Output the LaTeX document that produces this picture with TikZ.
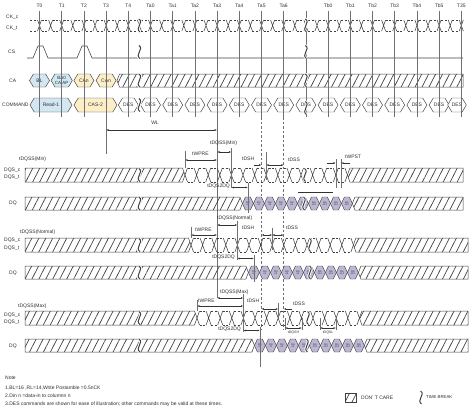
\documentclass[tikz,border=0pt]{standalone}
\usepackage{fontspec}
\setmainfont{Liberation Sans}
\usetikzlibrary{shapes.symbols,patterns.meta,arrows.meta}

\definecolor{wave}{HTML}{404040}
\definecolor{edgegray}{HTML}{707070}
\definecolor{txt}{HTML}{2E2E2E}
\definecolor{cmdblue}{HTML}{D2E7F2}
\definecolor{cmdyellow}{HTML}{FCEFC7}
\definecolor{beatfill}{HTML}{BEB7D4}

\newcommand{\dqshalf}{11.6}% DQS half period

\tikzset{
  lbl/.style={font=\fontsize{5}{6}\selectfont, text=txt, inner sep=0pt},
  bus/.style={shape=signal, signal to=east and west, signal pointer angle=118,
    draw=wave, line width=0.45pt, minimum height=13pt, minimum width=20pt,
    inner sep=0pt, font=\fontsize{5}{6}\selectfont, text=txt},
  busblue/.style={bus, fill=cmdblue},
  busyel/.style={bus, fill=cmdyellow},
  desbox/.style={bus, fill=white, minimum height=14pt},
  beat/.style={bus, fill=beatfill, minimum width=11pt, signal pointer angle=130,
    font=\fontsize{2.5}{2.7}\selectfont, align=center},
  hatch/.style={draw=wave, line width=0.5pt,
    pattern={Lines[angle=63,distance=6.2pt,line width=0.7pt]}, pattern color=wave},
  sig/.style={draw=wave, line width=0.55pt},
  sigdash/.style={sig, dash pattern=on 2pt off 1.6pt},
  edgeln/.style={draw=edgegray, line width=0.45pt},
  edgedash/.style={edgeln, dash pattern=on 2.5pt off 2pt},
  dimln/.style={draw=black!80, line width=0.45pt},
  dim/.style={dimln, {Latex[length=2.4pt,width=1.8pt]}-{Latex[length=2.4pt,width=1.8pt]}},
  arr/.style={dimln, -{Latex[length=2.4pt,width=1.8pt]}},
  tbrk/.pic={
    \draw[white, line width=2.8pt] (-0.5,-6.5) .. controls (5,-3) and (-5,2.5) .. (0.5,6.5);
    \draw[wave, line width=1pt] (-0.5,-6.5) .. controls (5,-3) and (-5,2.5) .. (0.5,6.5);
  }
}

% DQS strobe: #1 first edge, #2 top, #3 bottom, #4 right end
\newcommand{\dqswave}[4]{%
  \pgfmathsetmacro\ymid{(#2+#3)/2}
  \pgfmathsetmacro\xend{#1+14*\dqshalf}
  \path[hatch] (25,#2) -- (#1-2.5,#2) -- (#1,\ymid) -- (#1-2.5,#3) -- (25,#3) -- cycle;
  \path[hatch] (\xend,\ymid) -- (\xend+2.5,#2) -- (#4,#2) -- (#4,#3) -- (\xend+2.5,#3) -- cycle;
  \draw[sig] (#1,\ymid) -- (#1+2.5,#2) (#1,\ymid) -- (#1+2.5,#3)
             (\xend,\ymid) -- (\xend-2.5,#2) (\xend,\ymid) -- (\xend-2.5,#3);
  \foreach \i in {1,...,13}
    \draw[sig] ({#1+\dqshalf*\i-2.5},#2) -- ({#1+\dqshalf*\i+2.5},#3)
               ({#1+\dqshalf*\i-2.5},#3) -- ({#1+\dqshalf*\i+2.5},#2);
  \foreach \i in {0,...,13}
    \draw[sigdash] ({#1+\dqshalf*\i+2.5},#2) -- ({#1+\dqshalf*(\i+1)-2.5},#2)
                   ({#1+\dqshalf*\i+2.5},#3) -- ({#1+\dqshalf*(\i+1)-2.5},#3);
}

% DQ burst: #1 first beat start, #2 top, #3 bottom, #4 right end, #5 name prefix
\newcommand{\dqwave}[5]{%
  \pgfmathsetmacro\ymid{(#2+#3)/2}
  \pgfmathsetmacro\xend{#1+110}
  \path[hatch] (25,#2) -- (#1-2.5,#2) -- (#1,\ymid) -- (#1-2.5,#3) -- (25,#3) -- cycle;
  \path[hatch] (\xend,\ymid) -- (\xend+2.5,#2) -- (#4,#2) -- (#4,#3) -- (\xend+2.5,#3) -- cycle;
  \foreach \bn [count=\i from 0] in {0,1,2,3,4,11,12,13,14,15}
    \node[beat] (#5\bn) at ({#1+5.5+11*\i},\ymid) {Din\\n\bn};
}

\begin{document}
\begin{tikzpicture}[x=1pt,y=-1pt]
  \useasboundingbox (0,0) rectangle (474,410);

  % clock labels
  \foreach \lab [count=\k from 0] in {T0,T1,T2,T3,T4,Ta0,Ta1,Ta2,Ta3,Ta4,Ta5,Ta6}
    \node[lbl] (t\k) at ({39.5+22.2*\k},6) {\lab};
  \foreach \lab [count=\k from 13] in {Tb0,Tb1,Tb2,Tb3,Tb4,Tb5,T35}
    \node[lbl] (t\k) at ({39.5+22.2*\k},6) {\lab};

  % signal names
  \node[lbl, anchor=west] (ckc) at (6,17) {CK\_c};
  \node[lbl, anchor=west] (ckt) at (6,28) {CK\_t};
  \node[lbl, anchor=west] (cs) at (8,52) {CS};
  \node[lbl, anchor=west] (ca) at (9,81) {CA};
  \node[lbl, anchor=west] (cmd) at (2,105) {COMMAND};

  % clock
  \foreach \i in {1,...,39}
    \draw[sig] ({28.4+11.1*\i-2},20) -- ({28.4+11.1*\i+2},31)
               ({28.4+11.1*\i-2},31) -- ({28.4+11.1*\i+2},20);
  \foreach \i in {0,...,38}
    \draw[sigdash] ({28.4+11.1*\i+2},20) -- ({28.4+11.1*(\i+1)-2},20)
                   ({28.4+11.1*\i+2},31) -- ({28.4+11.1*(\i+1)-2},31);

  % CS
  \draw[sig] (27,58) -- (33,58) -- (38,46) -- (43,46) -- (48,58) -- (77,58)
    -- (82,46) -- (87,46) -- (92,58) -- (463,58);

  % CA
  \node[busblue] (bl) at (39.5,80.5) {BL};
  \node[busblue, align=center, font=\fontsize{4.5}{4.6}\selectfont] (ba) at (61.7,80.5) {BA0\\CA,AP};
  \node[busyel] (can1) at (83.9,80.5) {CAn};
  \node[busyel] (can2) at (106.1,80.5) {CAn};
  \path[hatch] (117,80.5) -- (119.5,74) -- (463,74) -- (463,87) -- (119.5,87) -- cycle;

  % COMMAND
  \node[busblue, minimum width=42pt, minimum height=14pt] (rd) at (51,105) {Read-1};
  \node[busyel, minimum width=43pt, minimum height=14pt] (cas) at (95.5,105) {CAS-2};
  \foreach \k in {4,...,18}
    \node[desbox] (des\k) at ({39.5+22.2*\k},105) {DES};
  \node[desbox, minimum width=13pt] (des19) at (457,105) {DES};

  % clock edges
  \foreach \k in {0,...,19}
    \draw[edgeln] ({39.5+22.2*\k},11) -- ({39.5+22.2*\k},117);
  \draw[edgeln] (106.1,117) -- (106.1,154);
  \draw[edgeln] (217.1,117) -- (217.1,298);
  \draw[edgedash] (261.5,117) -- (261.5,330);
  \draw[edgedash] (283.7,117) -- (283.7,330);
  \node[lbl] (wl) at (155,123) {WL};
  \draw[dim] (106.1,130) -- (217.1,130);

  % tDQSS(Min)
  \node[lbl, anchor=west] (minlbl) at (19,159) {tDQSS(Min)};
  \node[lbl, anchor=west] (mindqsc) at (4,170) {DQS\_c};
  \node[lbl, anchor=west] (mindqst) at (4,177.5) {DQS\_t};
  \node[lbl, anchor=west] (mindq) at (9,203.5) {DQ};
  \dqswave{185}{168}{182}{463}
  \dqwave{242.4}{197}{210}{463}{minq}
  \node[lbl, anchor=west] (minss) at (210,143) {tDQSS(Min)};
  \draw[dim] (217.1,152) -- (231.4,152);
  \draw[edgeln] (231.4,148) -- (231.4,188);
  \node[lbl, anchor=west] (minpre) at (192,154) {tWPRE};
  \draw[edgeln] (185,151) -- (185,168);
  \draw[dim] (185,160) -- (217.1,160);
  \node[lbl, anchor=east] (mins2q) at (230,186) {tDQS2DQ};
  \draw[dim] (231.4,187.5) -- (247.9,187.5);
  \draw[edgeln] (247.9,183) -- (247.9,213);
  \node[lbl, anchor=west] (mindsh) at (242,159) {tDSH};
  \draw[arr] (254,165) -- (261.5,165);
  \draw[edgeln] (266.2,152) -- (266.2,180);
  \draw[dim] (266.2,165) -- (283.7,165);
  \node[lbl, anchor=west] (mindss) at (288,160) {tDSS};
  \node[lbl, anchor=west] (minpst) at (345,157) {tWPST};
  \draw[edgeln] (335.8,159) -- (335.8,188) (341,159) -- (341,188);
  \draw[arr] (327,163) -- (335.8,163);
  \draw[arr] (350,163) -- (341,163);
  \draw[dimln] (298,192) -- (333,192);

  % tDQSS(Normal)
  \node[lbl, anchor=west] (nrmlbl) at (20,232) {tDQSS(Normal)};
  \node[lbl, anchor=west] (nrmdqsc) at (4,240) {DQS\_c};
  \node[lbl, anchor=west] (nrmdqst) at (4,248) {DQS\_t};
  \node[lbl, anchor=west] (nrmdq) at (9,273) {DQ};
  \dqswave{191}{238}{252}{468}
  \dqwave{248.4}{266}{279}{468}{nrmq}
  \node[lbl, anchor=west] (nrmss) at (217,218) {tDQSS(Normal)};
  \draw[dim] (217.1,225) -- (237.4,225);
  \draw[edgeln] (237.4,221) -- (237.4,260);
  \node[lbl, anchor=west] (nrmpre) at (195,230) {tWPRE};
  \draw[edgeln] (191,227) -- (191,238);
  \draw[dim] (191,235) -- (217.1,235);
  \node[lbl, anchor=east] (nrms2q) at (235,257) {tDQS2DQ};
  \draw[dim] (237.4,258.5) -- (253.9,258.5);
  \draw[edgeln] (253.9,255) -- (253.9,282);
  \node[lbl, anchor=west] (nrmdsh) at (242,228) {tDSH};
  \draw[edgeln] (272.2,228) -- (272.2,250);
  \draw[dim] (261.5,235) -- (272.2,235);
  \draw[dim] (272.2,235) -- (283.7,235);
  \node[lbl, anchor=west] (nrmdss) at (286,228) {tDSS};

  % tDQSS(Max)
  \node[lbl, anchor=west] (maxlbl) at (18,306) {tDQSS(Max)};
  \node[lbl, anchor=west] (maxdqsc) at (4,315) {DQS\_c};
  \node[lbl, anchor=west] (maxdqst) at (4,322) {DQS\_t};
  \node[lbl, anchor=west] (maxdq) at (9,346) {DQ};
  \dqswave{197}{311}{325}{468}
  \dqwave{254.4}{339}{352}{468}{maxq}
  \node[lbl, anchor=west] (maxss) at (220,292) {tDQSS(Max)};
  \draw[dim] (217.1,298) -- (243.4,298);
  \draw[edgeln] (243.4,294) -- (243.4,332);
  \node[lbl, anchor=west] (maxpre) at (198,300.5) {tWPRE};
  \draw[edgeln] (197,300) -- (197,311);
  \draw[dim] (197,306) -- (243.4,306);
  \node[lbl, anchor=east] (maxs2q) at (241,329) {tDQS2DQ};
  \draw[dim] (243.4,330.5) -- (259.9,330.5);
  \draw[edgeln] (259.9,327) -- (259.9,367);
  \node[lbl, anchor=west] (maxdsh) at (247,301) {tDSH};
  \draw[edgeln] (278.2,303) -- (278.2,318);
  \draw[dim] (261.5,309) -- (278.2,309);
  \draw[arr] (292,309) -- (283.7,309);
  \node[lbl, anchor=west] (maxdss) at (293,304) {tDSS};
  \draw[edgeln] (285,318) -- (285,330) (302,318) -- (302,330)
                (320,318) -- (320,330) (336,318) -- (336,330);
  \draw[dim] (285,328) -- (302,328);
  \draw[dim] (320,328) -- (336,328);
  \node[lbl, font=\fontsize{3.5}{4}\selectfont] (maxqsh) at (293.5,333) {tDQSH};
  \node[lbl, font=\fontsize{3.5}{4}\selectfont] (maxqsl) at (328,333) {tDQSL};

  % time breaks
  \foreach \y in {25.5,52,80.5,105,175,203.5,245,272.5,318,345.5}
    \pic at (139.4,\y) {tbrk};
  \foreach \y in {25.5,52,80.5,108}
    \pic at (305.9,\y) {tbrk};
  \pic at (305,175) {tbrk};
  \pic at (304,203.5) {tbrk};
  \pic at (310,245) {tbrk};
  \pic at (310,272.5) {tbrk};
  \pic at (308,318) {tbrk};
  \pic at (307,345.5) {tbrk};

  % notes and legend
  \node[lbl, anchor=west] (note) at (5,378) {Note};
  \node[lbl, anchor=west] (note1) at (5,388) {1.BL=16 ,RL=14,Write Postamble =0.5nCK};
  \node[lbl, anchor=west] (note2) at (5,396) {2.Din n =data-in to columnn n};
  \node[lbl, anchor=west] (note3) at (5,404) {3.DES commands are shown for ease of illustration; other commands may be valid at these times.};
  \path[hatch] (345,393) rectangle (356,402);
  \node[lbl, anchor=west] (dontcare) at (361,397.5) {DON' T CARE};
  \pic at (421,397.5) {tbrk};
  \node[lbl, anchor=west, font=\fontsize{4.3}{5}\selectfont] (timebreak) at (426,397.5) {TIME BREAK};
\end{tikzpicture}
\end{document}
